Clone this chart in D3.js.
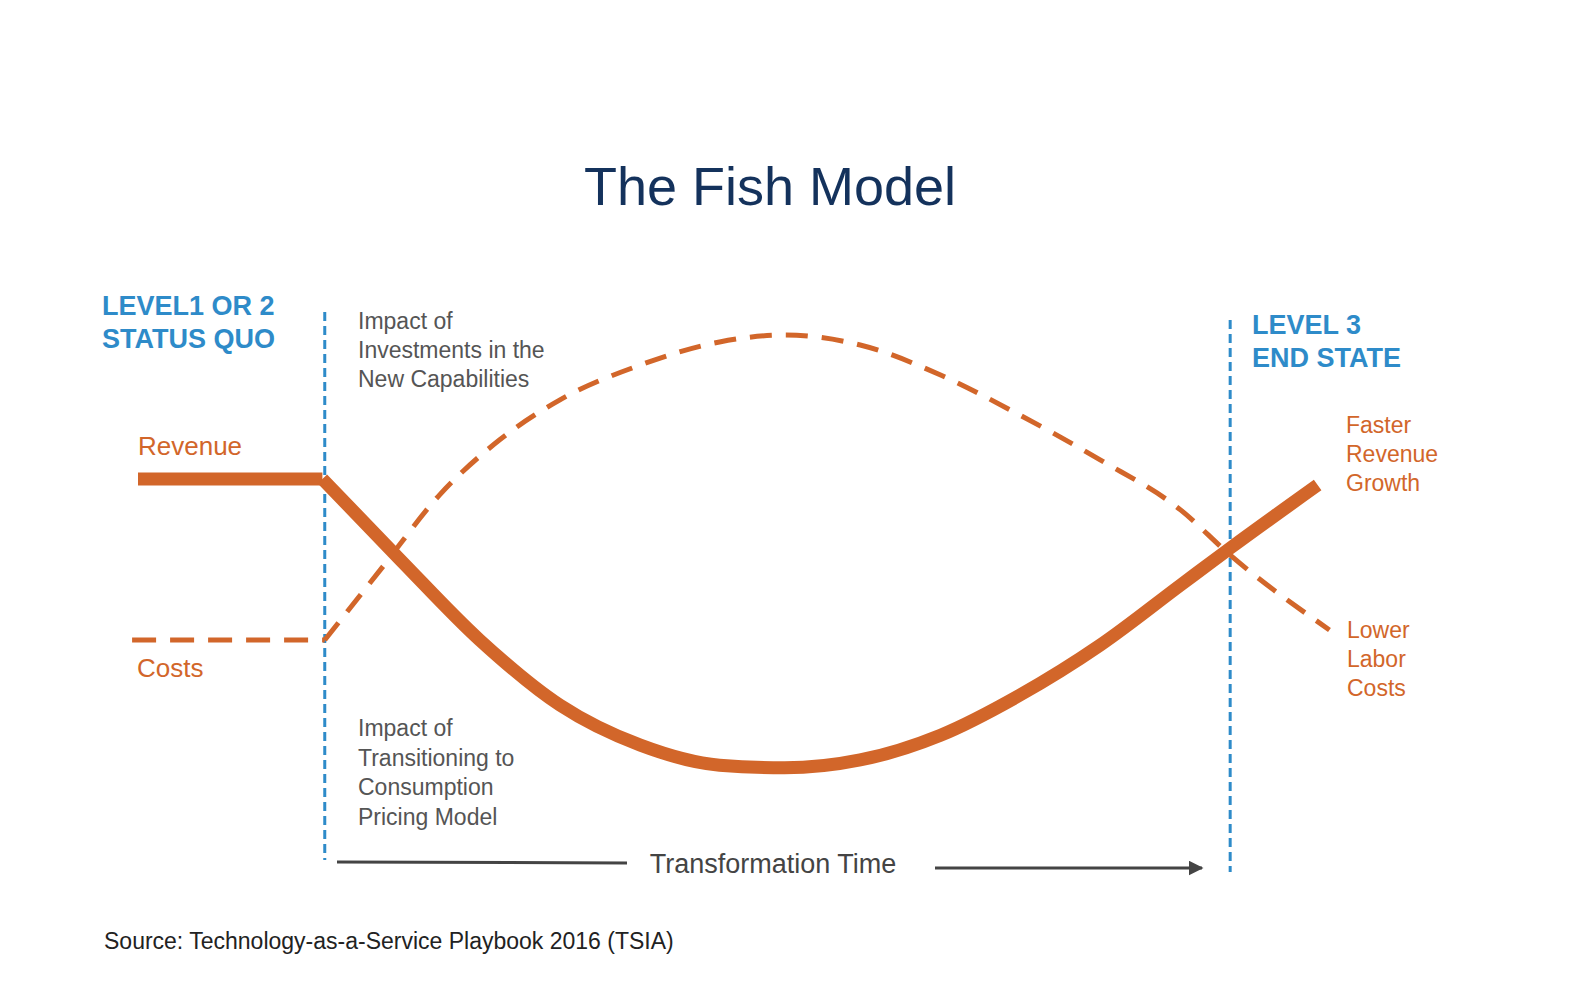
<!DOCTYPE html>
<html><head><meta charset="utf-8">
<script src="https://cdn.jsdelivr.net/npm/d3@7"></script>
<style>body{margin:0;background:#fff}svg{display:block;font-family:"Liberation Sans",Arial,sans-serif}</style>
</head><body><svg id="c" width="1576" height="992"></svg>
<script>
const revenueX = [0,15.6,22.2,28.9,35.7,42.5,49.2,54.7,61.1,67.9,74.6,81.4,88.2,92.4,99.8];
const revenueY = [66.9,66.9,48.3,29.9,14.9,5.7,1.1,0.5,2.3,8,17.2,28.7,42.5,51,65.5];
const costsX = [-0.5,15.8,20.5,25.5,30.6,35.7,42.5,49.2,54.7,61.1,67.9,74.6,81.4,88.2,92.4,100.8];
const costsY = [29.9,29.9,46,63.2,75.9,85.1,93.1,98.4,100,97.7,90.8,81.6,71.3,59.8,49.4,32.2];
const phaseX = [15.8, 92.4];

const svg = d3.select("#c");
const x = d3.scaleLinear().domain([0,100]).range([138,1320]);
const y = d3.scaleLinear().domain([0,100]).range([770,335]);
const orange = "#D2662A", blue = "#2E8BC9", grey = "#444";

svg.append("text").attr("x",770).attr("y",205).attr("text-anchor","middle")
  .attr("font-size",54).attr("fill","#14325C").text("The Fish Model");

// phase lines
[[phaseX[0],312,860],[phaseX[1],320,872]].forEach(([px,a,b])=>{
  svg.append("line").attr("x1",x(px)).attr("x2",x(px)).attr("y1",a).attr("y2",b)
    .attr("stroke",blue).attr("stroke-width",3).attr("stroke-dasharray","9,5");
});

const line = d3.line().x(d=>x(d[0])).y(d=>y(d[1]));
const costs = costsX.map((v,i)=>[v,costsY[i]]);
svg.append("path").attr("d",line.curve(d3.curveLinear)(costs.slice(0,2))).attr("fill","none")
  .attr("stroke",orange).attr("stroke-width",5).attr("stroke-dasharray","24,14");
svg.append("path").attr("d",line.curve(d3.curveMonotoneX)(costs.slice(1))).attr("fill","none")
  .attr("stroke",orange).attr("stroke-width",5).attr("stroke-dasharray","22,14");
const rev = revenueX.map((v,i)=>[v,revenueY[i]]);
svg.append("path").attr("d",line.curve(d3.curveLinear)(rev.slice(0,2))).attr("fill","none")
  .attr("stroke",orange).attr("stroke-width",13);
svg.append("path").attr("d",line.curve(d3.curveMonotoneX)(rev.slice(1))).attr("fill","none")
  .attr("stroke",orange).attr("stroke-width",13).attr("stroke-linejoin","round");

// arrow
svg.append("defs").append("marker").attr("id","ah").attr("viewBox","0 0 10 10").attr("refX",9).attr("refY",5)
  .attr("markerWidth",5).attr("markerHeight",5).attr("orient","auto")
  .append("path").attr("d","M0,0L10,5L0,10z").attr("fill",grey);
svg.append("line").attr("x1",337).attr("y1",862).attr("x2",627).attr("y2",863).attr("stroke",grey).attr("stroke-width",3);
svg.append("line").attr("x1",935).attr("y1",868).attr("x2",1202).attr("y2",868).attr("stroke",grey).attr("stroke-width",3).attr("marker-end","url(#ah)");
svg.append("text").attr("x",773).attr("y",873).attr("text-anchor","middle").attr("font-size",27).attr("fill",grey).text("Transformation Time");

function block(lines,x0,y0,lh,size,fill,weight){
  const t=svg.append("text").attr("font-size",size).attr("fill",fill).attr("font-weight",weight||"normal");
  lines.forEach((s,i)=>t.append("tspan").attr("x",x0).attr("y",y0+i*lh).text(s));
}
block(["LEVEL1 OR 2","STATUS QUO"],102,315,33,27,blue,"bold");
block(["LEVEL 3","END STATE"],1252,334,33,27,blue,"bold");
block(["Impact of","Investments in the","New Capabilities"],358,329,29,23,"#555");
block(["Impact of","Transitioning to","Consumption","Pricing Model"],358,736,29.5,23,"#555");
block(["Revenue"],138,455,0,26,orange);
block(["Costs"],137,677,0,26,orange);
block(["Faster","Revenue","Growth"],1346,433,29,23,orange);
block(["Lower","Labor","Costs"],1347,638,29,23,orange);
block(["Source: Technology-as-a-Service Playbook 2016 (TSIA)"],104,949,0,23,"#222");
</script></body></html>
